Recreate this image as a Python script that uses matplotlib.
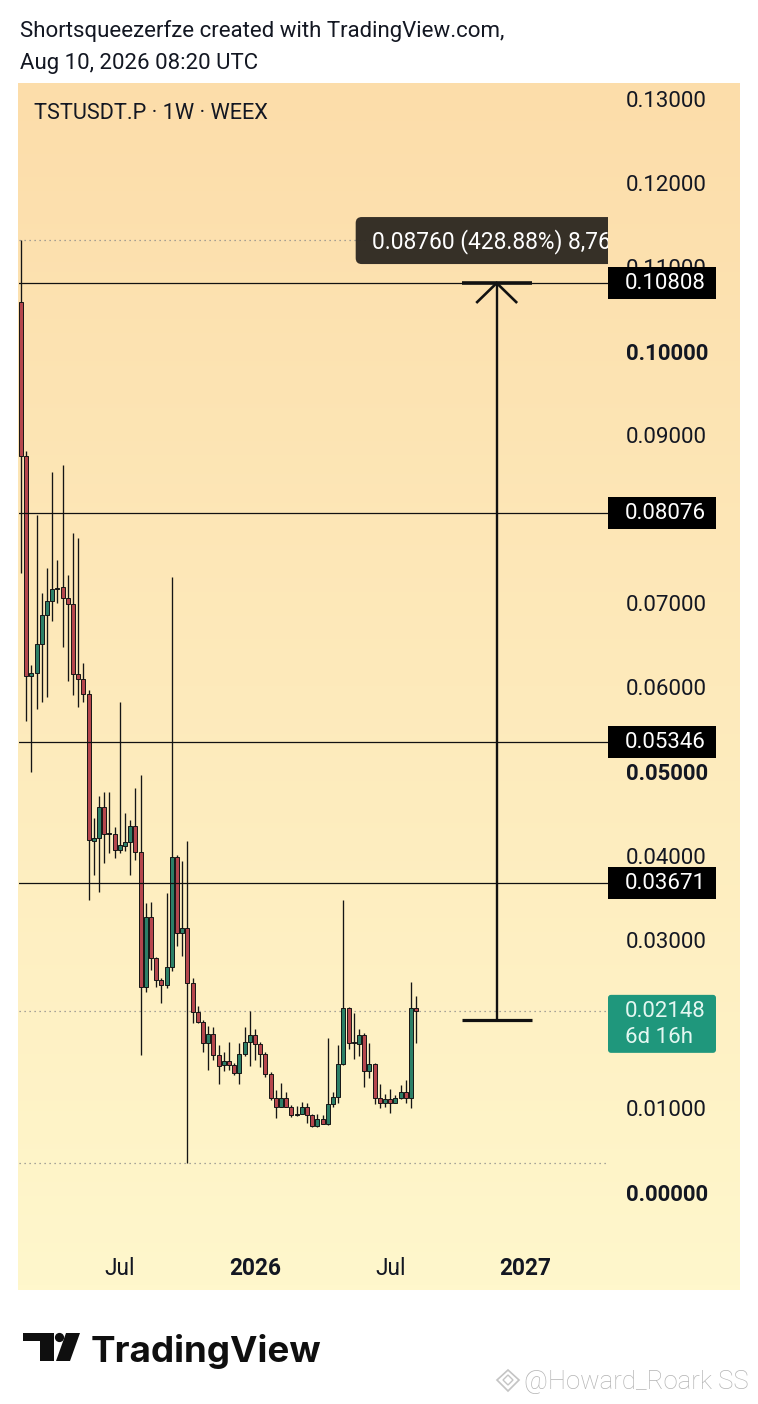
import matplotlib
matplotlib.use('Agg')
import matplotlib.pyplot as plt
import matplotlib.patches as mpatches
import numpy as np
import pandas as pd

# ---------------- data ----------------
first_week = '2025-02-24'
opens = [0.10586, 0.08755, 0.06136, 0.06175, 0.06516, 0.06857, 0.07027, 0.07166, 0.07190, 0.07059,
         0.06988, 0.06156, 0.06096, 0.05922, 0.04177, 0.04206, 0.04574, 0.04257, 0.04257, 0.04067,
         0.04118, 0.04158, 0.04352, 0.04039, 0.02441, 0.03266, 0.02779, 0.02521, 0.02461, 0.02679,
         0.03980, 0.03076, 0.03136, 0.02482, 0.02144, 0.02025, 0.01775, 0.01875, 0.01629, 0.01510,
         0.01558, 0.01510, 0.01411, 0.01637, 0.01780, 0.01867, 0.01756, 0.01637, 0.01400, 0.01121,
         0.01014, 0.01121, 0.01007, 0.00916, 0.00927, 0.01014, 0.00916, 0.00785, 0.00864, 0.00809,
         0.01043, 0.01126, 0.01522, 0.02191, 0.01768, 0.01760, 0.01867, 0.01439, 0.01522, 0.01114,
         0.01055, 0.01102, 0.01062, 0.01114, 0.01185, 0.01114, 0.02191]
highs = [0.11320, 0.08814, 0.06266, 0.08050, 0.07122, 0.07420, 0.08565, 0.07515, 0.08644, 0.07337,
         0.07840, 0.07776, 0.06287, 0.05969, 0.04447, 0.04709, 0.04753, 0.04753, 0.04344, 0.05826,
         0.04510, 0.04423, 0.04804, 0.04958, 0.03433, 0.03452, 0.02798, 0.02545, 0.03559, 0.07313,
         0.04007, 0.03936, 0.04174, 0.02541, 0.02215, 0.02045, 0.01974, 0.01966, 0.01748, 0.01668,
         0.01787, 0.01534, 0.01775, 0.01966, 0.02152, 0.01935, 0.01787, 0.01665, 0.01427, 0.01213,
         0.01293, 0.01193, 0.01034, 0.01023, 0.01074, 0.01062, 0.00927, 0.00927, 0.00916, 0.01835,
         0.01193, 0.01748, 0.03472, 0.02203, 0.02125, 0.01935, 0.01887, 0.01768, 0.01534, 0.01284,
         0.01165, 0.01221, 0.01153, 0.01272, 0.01332, 0.02501, 0.02331]
lows = [0.07360, 0.05604, 0.04998, 0.05743, 0.05830, 0.05889, 0.06793, 0.07004, 0.06484, 0.06076,
        0.05910, 0.05771, 0.05830, 0.03472, 0.03769, 0.03571, 0.03916, 0.04027, 0.03968, 0.04027,
        0.04058, 0.03769, 0.03948, 0.01629, 0.02375, 0.02640, 0.02441, 0.02251, 0.02422, 0.02631,
        0.02925, 0.02806, 0.00345, 0.02006, 0.02006, 0.01668, 0.01451, 0.01570, 0.01284, 0.01442,
        0.01451, 0.01391, 0.01284, 0.01617, 0.01498, 0.01570, 0.01490, 0.01364, 0.01094, 0.00876,
        0.01014, 0.01007, 0.00895, 0.00904, 0.00924, 0.00817, 0.00776, 0.00773, 0.00803, 0.00797,
        0.01014, 0.01055, 0.01510, 0.01697, 0.01578, 0.01617, 0.01252, 0.01352, 0.01046, 0.00995,
        0.01007, 0.00943, 0.01055, 0.01102, 0.01055, 0.00995, 0.01775]
closes = [0.08755, 0.06136, 0.06175, 0.06516, 0.06857, 0.07027, 0.07166, 0.07186, 0.07059, 0.06988,
          0.06156, 0.06096, 0.05922, 0.04186, 0.04206, 0.04574, 0.04257, 0.04265, 0.04067, 0.04126,
          0.04158, 0.04352, 0.04039, 0.02441, 0.03266, 0.02779, 0.02521, 0.02461, 0.02679, 0.03980,
          0.03076, 0.03136, 0.02482, 0.02144, 0.02025, 0.01775, 0.01875, 0.01629, 0.01498, 0.01558,
          0.01510, 0.01411, 0.01637, 0.01780, 0.01867, 0.01756, 0.01637, 0.01400, 0.01121, 0.01014,
          0.01121, 0.01007, 0.00916, 0.00927, 0.01014, 0.00916, 0.00785, 0.00864, 0.00809, 0.01043,
          0.01126, 0.01522, 0.02191, 0.01768, 0.01775, 0.01867, 0.01439, 0.01522, 0.01114, 0.01055,
          0.01102, 0.01062, 0.01114, 0.01185, 0.01114, 0.02191, 0.02148]

level_lines = [0.10808, 0.08076, 0.05346, 0.03671]
level_labels = ['0.10808', '0.08076', '0.05346', '0.03671']
last_price = 0.02148
last_label = '0.02148'
countdown = '6d 16h'
range_high = 0.11320
range_low = 0.00345
measure_from = 0.020425
measure_to = 0.10808
measure_bar_from = 84.75   # bar positions of the measuring tool
measure_bar_to = 98.2
measure_text = '0.08760 (428.88%) 8,760'
price_ticks = [0.00, 0.01, 0.02, 0.03, 0.04, 0.05, 0.06, 0.07, 0.08, 0.09, 0.10, 0.11, 0.12, 0.13]
bold_ticks = [0.00, 0.05, 0.10]
header_1 = 'Shortsqueezerfze created with TradingView.com,'
header_2 = 'Aug 10, 2026 08:20 UTC'
symbol_title = 'TSTUSDT.P · 1W · WEEX'
watermark = '@Howard_Roark SS'

# ---------------- figure ----------------
W, H = 758, 1404
fig = plt.figure(figsize=(W / 100, H / 100), dpi=100)
fig.patch.set_facecolor('white')
plt.rcParams['font.family'] = ['Roboto', 'DejaVu Sans']

def fx(px):
    return px / W

def fy(py):
    return 1 - py / H

TXT = '#131722'
RED = '#B5464D'
GRN = '#2C7F67'

# panel background gradient
bg = fig.add_axes([fx(18), fy(1290), fx(740) - fx(18), (1290 - 83) / H], zorder=0)
top_c = np.array([252, 221, 170]) / 255
bot_c = np.array([255, 247, 204]) / 255
t = np.linspace(0, 1, 256)[:, None]
grad = (top_c[None, :] * (1 - t) + bot_c[None, :] * t)[:, None, :]
bg.imshow(grad, aspect='auto', extent=[0, 1, 0, 1])
bg.axis('off')

# main price axes
ax = fig.add_axes([fx(19), fy(1245), fx(608) - fx(19), (1245 - 83) / H], zorder=2)
ax.patch.set_alpha(0)
for s in ax.spines.values():
    s.set_visible(False)

n = len(opens)
x = np.arange(n)
o = np.array(opens); c = np.array(closes); hi = np.array(highs); lo = np.array(lows)
up = c >= o
body_bottom = np.minimum(o, c)
body_h = np.maximum(np.abs(c - o), 0.00013)

XLIM = (-0.385, 112.88)
YLIM = (-0.006302, 0.131867)

ax.vlines(x, lo, hi, color='#151515', lw=0.95, zorder=3)
ax.bar(x[up], body_h[up], bottom=body_bottom[up], width=0.8, color=GRN,
       edgecolor='#151515', linewidth=0.7, zorder=4)
ax.bar(x[~up], body_h[~up], bottom=body_bottom[~up], width=0.8, color=RED,
       edgecolor='#151515', linewidth=0.7, zorder=4)

# level lines
for lv in level_lines:
    ax.axhline(lv, color='#111111', lw=0.9, zorder=5)
# dotted lines (range high/low, last price)
for lv in [range_high, range_low, last_price]:
    ax.axhline(lv, color='#8a8a8a', lw=0.9, ls=(0, (1, 3)), zorder=2)

# price axis ticks
ax.yaxis.tick_right()
ax.set_yticks(price_ticks)
ax.set_yticklabels([f'{v:.5f}' for v in price_ticks])
ax.tick_params(axis='y', length=0, pad=13, labelsize=16, labelcolor=TXT)
for lab, v in zip(ax.get_yticklabels(), price_ticks):
    if any(abs(v - b) < 1e-9 for b in bold_ticks):
        lab.set_fontweight('bold')

# time axis ticks from weekly dates
dates = pd.date_range(first_week, periods=130, freq='W-MON')
tick_pos, tick_lab, tick_bold = [], [], []
for i, d in enumerate(dates):
    if d.day <= 7 and d.month in (1, 7) and XLIM[0] <= i <= XLIM[1] - 6:
        tick_pos.append(i)
        if d.month == 1:
            tick_lab.append(str(d.year)); tick_bold.append(True)
        else:
            tick_lab.append(d.strftime('%b')); tick_bold.append(False)
ax.set_xticks(tick_pos)
ax.set_xticklabels(tick_lab)
ax.tick_params(axis='x', length=0, pad=8.5, labelsize=16.3, labelcolor=TXT)
for lab, b in zip(ax.get_xticklabels(), tick_bold):
    if b:
        lab.set_fontweight('bold')

ax.set_xlim(*XLIM)
ax.set_ylim(*YLIM)

# ---------------- overlay in pixel coordinates ----------------
ov = fig.add_axes([0, 0, 1, 1], zorder=5)
ov.set_xlim(0, W); ov.set_ylim(H, 0)
ov.patch.set_alpha(0)
ov.axis('off')

fig.canvas.draw()

def to_px(xd, yd):
    disp = ax.transData.transform((xd, yd))
    return ov.transData.inverted().transform(disp)

# measuring tool
mx = (measure_bar_from + measure_bar_to) / 2
_, py_top = to_px(mx, measure_to)
_, py_bot = to_px(mx, measure_from)
px_c, _ = to_px(mx, 0)
px_l, _ = to_px(measure_bar_from, 0)
px_r, _ = to_px(measure_bar_to, 0)
ov.plot([px_c, px_c], [py_bot, py_top + 1], color='#111111', lw=1.7, solid_capstyle='butt')
ov.plot([px_l, px_r], [py_top, py_top], color='#111111', lw=2.6, solid_capstyle='butt')
ov.plot([px_l, px_r], [py_bot, py_bot], color='#111111', lw=2.3, solid_capstyle='butt')
ov.plot([px_c - 19.5, px_c, px_c + 19.5], [py_top + 19, py_top, py_top + 19],
        color='#111111', lw=1.9, solid_joinstyle='miter')

# tooltip (clipped by price area)
tip = mpatches.FancyBboxPatch((px_c - 141, py_top - 66), 282, 47,
                              boxstyle='round,pad=0,rounding_size=6',
                              facecolor='#2e2922', edgecolor='none', alpha=0.96, zorder=6)
ov.add_patch(tip)
tip.set_clip_box(ax.bbox)
tt = ov.text(px_c - 124.5, py_top - 42, measure_text, color='white', fontsize=16.4,
             ha='left', va='center', zorder=7)
tt.set_clip_box(ax.bbox)
tt.set_clip_on(True)

# level label boxes
for lv, lab in zip(level_lines, level_labels):
    _, py = to_px(0, lv)
    ov.add_patch(mpatches.Rectangle((608, py - 16), 108, 32, facecolor='black',
                                    edgecolor='none', zorder=6))
    ov.text(625, py + 0.5, lab, color='white', fontsize=16, ha='left', va='center', zorder=7)

# last price box
_, pyl = to_px(0, last_price)
ov.add_patch(mpatches.FancyBboxPatch((608, pyl - 16.5), 108, 58,
                                     boxstyle='round,pad=0,rounding_size=3',
                                     facecolor='#1F977C', edgecolor='none', zorder=6))
ov.text(625, pyl + 0.5, last_label, color='#E3F7F1', fontsize=16, ha='left', va='center', zorder=7)
ov.text(625, pyl + 26.5, countdown, color='#E3F7F1', fontsize=16, ha='left', va='center', zorder=7)

# header texts
ov.text(19.5, 37, header_1, color=TXT, fontsize=16, ha='left', va='baseline')
ov.text(19.5, 68.5, header_2, color=TXT, fontsize=16, ha='left', va='baseline')
ov.text(34.5, 119, symbol_title, color=TXT, fontsize=15.7, ha='left', va='baseline')

# TradingView logo
ov.add_patch(mpatches.Polygon([(23, 1333), (53.5, 1333), (53.5, 1361), (40, 1361), (40, 1341), (23, 1341)],
                              closed=True, facecolor='#0f0f0f', edgecolor='none'))
ov.add_patch(mpatches.Circle((59.5, 1337.5), 4.6, facecolor='#0f0f0f', edgecolor='none'))
ov.add_patch(mpatches.Polygon([(66, 1333), (80, 1333), (70, 1361), (56, 1361)],
                              closed=True, facecolor='#0f0f0f', edgecolor='none'))
ov.text(91, 1362, 'TradingView', color='#0f0f0f', fontsize=26.5, fontweight='bold',
        family=['Inter', 'DejaVu Sans'], ha='left', va='baseline')

# watermark
ov.add_patch(mpatches.Polygon([(508, 1370), (519, 1380), (508, 1391), (497, 1380)], closed=True,
                              facecolor='none', edgecolor='#c4c4c4', lw=1.2))
ov.add_patch(mpatches.Polygon([(508, 1375), (513, 1380), (508, 1385), (503, 1380)], closed=True,
                              facecolor='none', edgecolor='#c4c4c4', lw=1.0))
ov.text(524, 1389, watermark, color='#b4b4b4', fontsize=18.5, fontweight='light',
        ha='left', va='baseline')

fig.savefig('out.png', dpi=100)
